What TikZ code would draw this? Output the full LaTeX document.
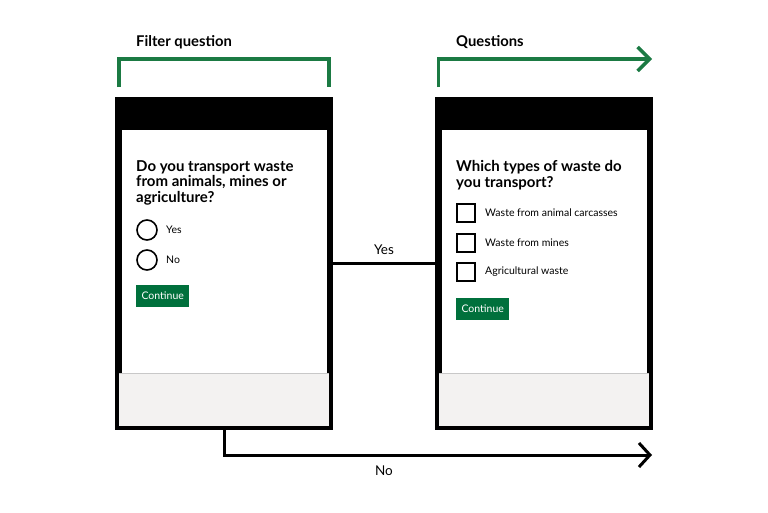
\documentclass[tikz,border=0pt]{standalone}
\usepackage{fontspec}
\setmainfont{Lato}
\usetikzlibrary{arrows.meta,positioning}
\definecolor{govgreen}{HTML}{00703C}
\definecolor{brgreen}{HTML}{1B7A43}
\definecolor{footgray}{HTML}{F3F2F1}
\definecolor{linegray}{HTML}{C8C8C8}
\tikzset{
  phone/.style={draw=black, line width=4.5pt, fill=white, minimum width=209.5pt, minimum height=324.5pt, inner sep=0pt},
  conn/.style={line width=3pt, draw=black},
  chev/.style={-{Straight Barb[length=11pt,width=24pt,line width=3pt]}},
  bracket/.style={draw=brgreen, line width=3.5pt},
  heading/.style={anchor=west, font=\bfseries\fontsize{14.8}{17}\selectfont, inner sep=0pt},
  question/.style={anchor=north west, align=left, font=\bfseries\fontsize{15}{15.8}\selectfont, inner sep=0pt},
  small/.style={anchor=west, font=\fontsize{10.5}{12}\selectfont, inner sep=0pt},
  radio/.style={circle, draw=black, line width=1.6pt, minimum size=20pt, inner sep=0pt},
  cbox/.style={rectangle, draw=black, line width=1.6pt, minimum size=18pt, inner sep=0pt},
  btn/.style={fill=govgreen, text=white, font=\fontsize{10.5}{12}\selectfont, minimum width=53pt, minimum height=22pt, inner sep=0pt, anchor=west},
  edgelab/.style={font=\fontsize{13.5}{15}\selectfont, inner sep=0pt}
}
\begin{document}
\begin{tikzpicture}[x=1pt,y=-1pt]
\useasboundingbox (0,0) rectangle (768,512);
% phones
\node[phone] (p1) at (224,263.5) {};
\node[phone] (p2) at (544,263.5) {};
\foreach \p in {p1,p2}{
  \fill[footgray] ([xshift=2.25pt,yshift=-2.25pt]\p.south west) rectangle ([xshift=-2.25pt]\p.east |- 0,373);
  \draw[linegray, line width=1pt] ([xshift=2.25pt]\p.west |- 0,373) -- ([xshift=-2.25pt]\p.east |- 0,373);
  \fill[black] ([xshift=-2.25pt,yshift=2.25pt]\p.north west) rectangle ([xshift=2.25pt]\p.east |- 0,130);
  \draw[black, line width=4.5pt] (\p.north west) rectangle (\p.south east);
}
% headings and brackets
\node[heading] (h1) at (136,42) {Filter question};
\node[heading] (h2) at (456,42) {Questions};
\coordinate (b1a) at (119,87);
\coordinate (b1b) at (329,87);
\draw[bracket] (b1a) -- (b1a |- 0,59) -- (b1b |- 0,59) -- (b1b);
\coordinate (b2a) at (438.5,87);
\coordinate (b2end) at (652,59);
\draw[bracket, -{Straight Barb[length=12pt,width=24pt,line width=3.5pt]}] (b2a) -- (b2a |- b2end) -- (b2end);
% left screen content
\node[question] (q1) at (136,160) {Do you transport waste\\from animals, mines or\\agriculture?};
\node[radio] (r1) at (147,230) {};
\node[radio] (r2) at (147,260) {};
\node[small] (ly) at (166,230) {Yes};
\node[small] (ln) at (166,260) {No};
\node[btn] (c1) at (136,296) {Continue};
% right screen content
\node[question] (q2) at (456,160) {Which types of waste do\\you transport?};
\node[cbox] (k1) at (466,213) {};
\node[cbox] (k2) at (466,243) {};
\node[cbox] (k3) at (466,272) {};
\node[small] (t1) at (485,213) {Waste from animal carcasses};
\node[small] (t2) at (485,243) {Waste from mines};
\node[small] (t3) at (485,272) {Agricultural waste};
\node[btn] (c2) at (456,309) {Continue};
% connectors
\draw[conn] (p1.east) -- (p2.west);
\node[edgelab] (yes) at (384,250) {Yes};
\coordinate (noend) at (652,455);
\draw[conn, chev] (p1.south) -- (p1.south |- noend) -- (noend);
\node[edgelab] (no) at (384,471) {No};
\end{tikzpicture}
\end{document}
